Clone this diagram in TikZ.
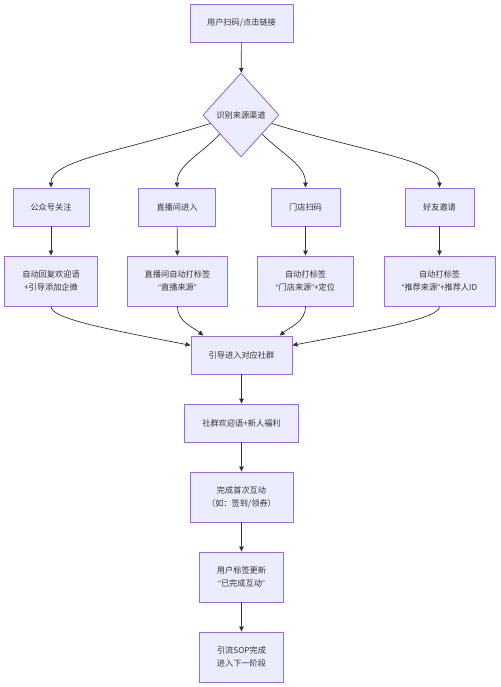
\documentclass[tikz,border=0pt]{standalone}
\usepackage{fontspec}
\setmainfont{Noto Sans CJK SC}
\newfontfamily\latq{Liberation Sans}
\newcommand{\oq}{{\latq “}}
\newcommand{\cq}{{\latq ”}}
\usetikzlibrary{shapes.geometric,arrows.meta,calc}
\definecolor{boxfill}{HTML}{ECECFF}
\definecolor{boxline}{HTML}{9370DB}
\definecolor{edgec}{HTML}{333333}
\begin{document}
\begin{tikzpicture}[x=1pt,y=-1pt,
  box/.style={draw=boxline,fill=boxfill,line width=0.9pt,inner sep=0pt,align=center,
    font=\fontsize{8.2}{12.6}\selectfont,text=edgec},
  dia/.style={box,diamond},
  flow/.style={draw=edgec,line width=0.7pt,-{Triangle[length=5pt,width=4.5pt]}}]
\useasboundingbox (0,0) rectangle (500,687);

\node[box,minimum width=103pt,minimum height=38pt] (t) at (241.5,23) {用户扫码/点击链接};
\node[dia,minimum width=76pt,minimum height=84pt] (d) at (241,115) {识别来源渠道};

\node[box,minimum width=76pt,minimum height=38pt] (a1) at (51,207) {公众号关注};
\node[box,minimum width=77pt,minimum height=38pt] (a2) at (177,207) {直播间进入};
\node[box,minimum width=69pt,minimum height=38pt] (a3) at (305.5,207) {门店扫码};
\node[box,minimum width=69pt,minimum height=38pt] (a4) at (439.5,207) {好友邀请};

\node[box,minimum width=93pt,minimum height=50pt] (b1) at (51,281) {自动回复欢迎语\\+引导添加企微};
\node[box,minimum width=100pt,minimum height=50pt] (b2) at (177.5,281) {直播间自动打标签\\\oq 直播来源\cq};
\node[box,minimum width=96pt,minimum height=50pt] (b3) at (305.5,281) {自动打标签\\\oq 门店来源\cq+定位};
\node[box,minimum width=111pt,minimum height=50pt] (b4) at (439.5,281) {自动打标签\\\oq 推荐来源\cq+推荐人ID};

\node[box,minimum width=101pt,minimum height=38pt] (m) at (241.5,355) {引导进入对应社群};
\node[box,minimum width=114pt,minimum height=38pt] (c1) at (241.5,423) {社群欢迎语+新人福利};
\node[box,minimum width=103pt,minimum height=50pt] (c2) at (241.5,497) {完成首次互动\\（如：签到/领券）};
\node[box,minimum width=84pt,minimum height=50pt] (c3) at (241.5,577) {用户标签更新\\\oq 已完成互动\cq};
\node[box,minimum width=84pt,minimum height=50pt] (c4) at (241.5,657) {引流SOP完成\\进入下一阶段};

\draw[flow] (t) -- (d);
\coordinate (dl1) at ($(d.west)!0.2!(d.south)$);
\coordinate (dl2) at ($(d.west)!0.45!(d.south)$);
\coordinate (dr1) at ($(d.east)!0.2!(d.south)$);
\coordinate (dr2) at ($(d.east)!0.45!(d.south)$);
\draw[flow] (dl1) .. controls (120,152) and (51,160) .. (a1.north);
\draw[flow] (dl2) .. controls (200,155) and (177,165) .. (a2.north);
\draw[flow] (dr2) .. controls (283,155) and (305.5,165) .. (a3.north);
\draw[flow] (dr1) .. controls (364,152) and (439.5,160) .. (a4.north);

\draw[flow] (a1) -- (b1);
\draw[flow] (a2) -- (b2);
\draw[flow] (a3) -- (b3);
\draw[flow] (a4) -- (b4);

\coordinate (ml) at ($(m.north west)!0.25!(m.south west)$);
\coordinate (mr) at ($(m.north east)!0.25!(m.south east)$);
\coordinate (mt1) at ($(m.north west)!0.125!(m.north east)$);
\coordinate (mt2) at ($(m.north west)!0.875!(m.north east)$);
\draw[flow] (b1.south) .. controls (51,318) and (100,328) .. (ml);
\draw[flow] (b2.south) .. controls (177.5,322) and (193,327) .. (mt1);
\draw[flow] (b3.south) .. controls (305.5,322) and (290,327) .. (mt2);
\draw[flow] (b4.south) .. controls (439.5,318) and (385,328) .. (mr);

\draw[flow] (m) -- (c1);
\draw[flow] (c1) -- (c2);
\draw[flow] (c2) -- (c3);
\draw[flow] (c3) -- (c4);
\end{tikzpicture}
\end{document}
